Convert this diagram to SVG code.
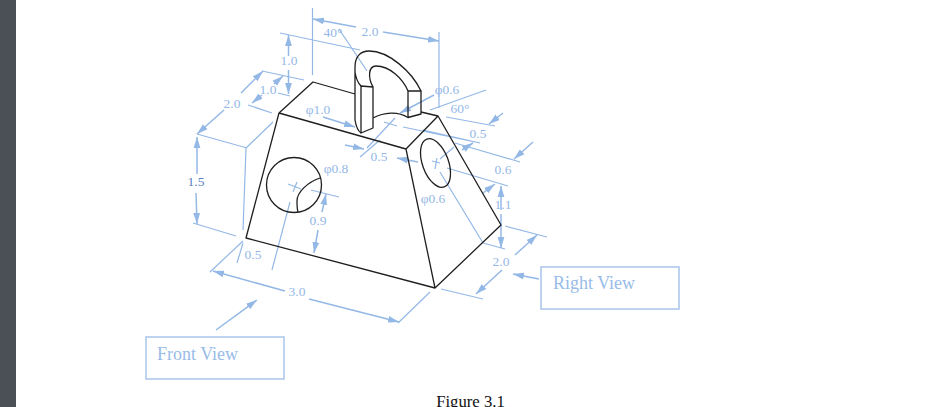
<svg xmlns="http://www.w3.org/2000/svg" width="927" height="407" viewBox="0 0 927 407">
<style>
.d{fill:none;stroke:#94b8e6;stroke-width:1.2}
.a{fill:none;stroke:#94b8e6;stroke-width:1.5;marker-end:url(#h)}
.o{fill:none;stroke:#1f1f1f;stroke-width:1.3;stroke-linejoin:round}
.t{font-family:"Liberation Serif","Times New Roman",serif;font-size:13.500px;fill:#94b8e6;text-anchor:middle}
.l{font-family:"Liberation Serif","Times New Roman",serif;font-size:18px;fill:#98bce8}
.b{fill:#fff;stroke:#a9c5ea;stroke-width:1.5}
</style>
<defs>
<marker id="h" markerUnits="userSpaceOnUse" markerWidth="12" markerHeight="8" refX="11" refY="4" orient="auto"><path d="M0 .6L11 4L0 7.400Z" fill="#94b8e6"/></marker>
</defs>
<rect width="927" height="407" fill="#fff"/>
<rect id="page-edge" x="0" y="0" width="16" height="407" fill="#4a5056"/>
<g id="connectors">
<path class="d" d="M312.500 8V75M439 32V108M280 33L360 50M262 71L304 80M278 93L290 96M248 105L272 113M197 134L247 148M246 148L273 122M246 148L243 230M193 223L236 236M243 241L210 272M243 243L237 263M290 202L272 270M311 190L339 197M398 323L430 292M441 289L483 299M505 226L547 237M483 243L505 249M447 168L508 186M440 172L483 243M455 143L520 162M423 130L480 143M440 159L454 147M430 110L486 90M446 117L495 126M403 127L480 143M395 118L367 148M380 140L360 157M339 29L367 71"/>
<path class="d" d="M288 184L301 189M297 182L293 192M432 161L440 163M437 158L435 169M384 122L397 126"/>
<path class="a" d="M356 27L313 19"/><path class="a" d="M383 32L439 41"/>
<path class="a" d="M288.500 56V35"/><path class="a" d="M288.500 70V94"/>
<path class="a" d="M241 93L263 71"/><path class="a" d="M224 110L197 134"/>
<path class="a" d="M274 84L283 76"/><path class="a" d="M262 95L252 103"/>
<path class="a" d="M197 174V137"/><path class="a" d="M196 193L197 224"/>
<path class="a" d="M322 212L326 194"/><path class="a" d="M318 230L314 253"/>
<path class="a" d="M285 291L213 271"/><path class="a" d="M309 299L399 322"/>
<path class="a" d="M216 330L257 300"/>
<path class="a" d="M323 117L355 127"/><path class="a" d="M434 95L400 113"/>
<path class="a" d="M503 113L489 124"/><path class="a" d="M533 142L514 159"/>
<path class="a" d="M462 150L473 143"/><path class="a" d="M483 193L495 184"/>
<path class="a" d="M345 145L364 149"/><path class="a" d="M418 162L397 158"/>
<path class="a" d="M501 210V186"/><path class="a" d="M501 214V248"/>
<path class="a" d="M515 255L537 235"/><path class="a" d="M502 270L476 294"/>
<path class="a" d="M539 279L513 274"/>
</g>
<g id="block">
<path class="o" d="M246 238L279 113L406 149L435 288ZM435 288L501 225L438 116L406 149M279 113L313 82L355 94M421 112L438 116"/>
<circle class="o" cx="294" cy="185" r="27.500"/>
<path class="o" d="M320 178C308 182 297 192 297 201C297 205 297 209 298 212"/>
<ellipse class="o" cx="435.500" cy="163" rx="13" ry="25.500" transform="rotate(-20 435.500 163)"/>
</g>
<g id="handle">
<path class="o" d="M361 86L373 87V128L361 133ZM408 91H421V114L408 117.500Z"/>
<path class="o" d="M355 120V67C355 56 361 51 369 51C389 51 412 72 421 91M355 120C356 126 358 131 361 133M355 72C356 79 358 83 361 86M373 87C368 78 368 66 376 66C390 66 403 79 408 91M373 118C384 112 398 111 408 117.500"/>
</g>
<g id="labels">
<text class="t" x="333" y="37">40°</text><text class="t" x="370" y="36">2.0</text>
<text class="t" x="289" y="65">1.0</text><text class="t" x="268" y="94">1.0</text><text class="t" x="232" y="108">2.0</text>
<text class="t" x="318" y="114">φ1.0</text><text class="t" x="447" y="94">φ0.6</text><text class="t" x="460" y="113">60°</text>
<text class="t" x="478" y="138">0.5</text><text class="t" x="379" y="161">0.5</text><text class="t" x="503" y="174">0.6</text>
<text class="t" x="336" y="173">φ0.8</text><text class="t" x="433" y="203">φ0.6</text><text class="t" x="503" y="209">1.1</text>
<text class="t" x="318" y="225">0.9</text><text class="t" x="253" y="259">0.5</text><text class="t" x="501" y="266">2.0</text>
<text class="t" x="297" y="296">3.0</text>
<text x="196" y="186" font-family="Liberation Serif,serif" font-size="13.500" text-anchor="middle" fill="#5b7fc0">1.5</text>
</g>
<g id="front-view"><rect class="b" x="146" y="337" width="138" height="42"/><text class="l" x="157" y="360">Front View</text></g>
<g id="right-view"><rect class="b" x="541" y="267" width="138" height="42"/><text class="l" x="553" y="289">Right View</text></g>
<text x="470.500" y="407" font-family="Liberation Serif,serif" font-size="16.700" text-anchor="middle" fill="#111">Figure 3.1</text>
</svg>
